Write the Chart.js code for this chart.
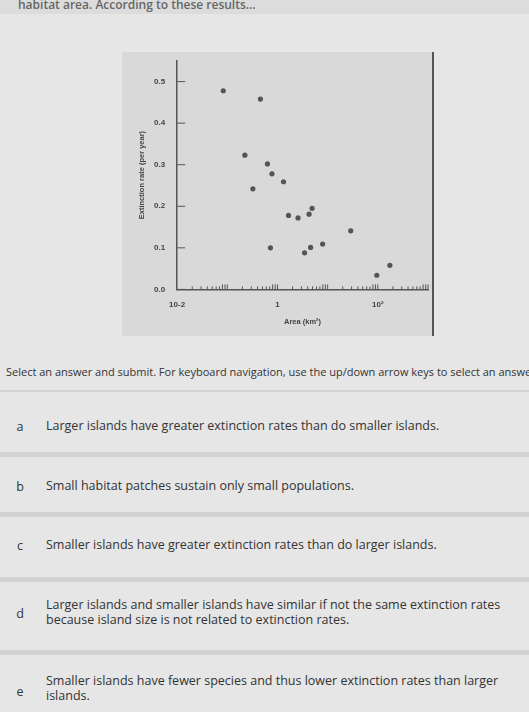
<!DOCTYPE html>
<html><head><meta charset="utf-8">
<script src="https://cdn.jsdelivr.net/npm/chart.js@4"></script>
<style>
body{margin:0;width:529px;height:712px;background:#e6e6e6;font-family:"Open Sans",Arial,sans-serif;color:#333;position:relative;overflow:hidden}
#top{position:absolute;left:0;top:0;width:529px;height:14px;background:#dcdcdc;font-size:12px;color:#666;padding-left:18px;line-height:10px;font-weight:600}
#panel{position:absolute;left:122px;top:52px;width:310px;height:284px;background:#d9d9d9;border-right:2px solid #555}
#wrap{position:absolute;left:133px;top:52px;width:299px;height:284px}
.sel{position:absolute;left:6px;top:364px;font-size:11px;white-space:nowrap}
.row{position:absolute;left:0;width:529px;font-size:12.5px}
.let{position:absolute;left:14px;width:12px;text-align:center}
.txt{position:absolute;left:46px;width:470px;line-height:15px}
.sep{position:absolute;left:0;width:529px;height:5px;background:#d2d2d2}
</style></head><body>
<div id="top">habitat area. According to these results...</div>
<div id="panel"></div>
<div id="wrap"><canvas id="c"></canvas></div>
<div class="sel">Select an answer and submit. For keyboard navigation, use the up/down arrow keys to select an answer.</div>
<div class="sep" style="top:390px;height:2px"></div>
<div class="row" style="top:418px"><span class="let">a</span><span class="txt">Larger islands have greater extinction rates than do smaller islands.</span></div>
<div class="sep" style="top:452px"></div>
<div class="row" style="top:478px"><span class="let">b</span><span class="txt">Small habitat patches sustain only small populations.</span></div>
<div class="sep" style="top:512px"></div>
<div class="row" style="top:537px"><span class="let">c</span><span class="txt">Smaller islands have greater extinction rates than do larger islands.</span></div>
<div class="sep" style="top:577px"></div>
<div class="row" style="top:597px"><span class="let" style="top:8px">d</span><span class="txt">Larger islands and smaller islands have similar if not the same extinction rates because island size is not related to extinction rates.</span></div>
<div class="sep" style="top:650px"></div>
<div class="row" style="top:673px"><span class="let" style="top:10px">e</span><span class="txt">Smaller islands have fewer species and thus lower extinction rates than larger islands.</span></div>
<script>
const logArea=[-1.08,-0.34,-0.65,-0.49,-0.20,-0.11,0.12,0.22,0.41,0.63,0.69,-0.14,0.54,0.66,0.90,1.46,1.98,2.24];
const extinction=[0.478,0.458,0.323,0.242,0.302,0.278,0.259,0.178,0.172,0.181,0.195,0.100,0.088,0.101,0.109,0.141,0.034,0.058];
const yTicks=[0,0.1,0.2,0.3,0.4,0.5];
const xTickLabels={'0.01':'10-2','1':'1','100':'10²'};
const pts=logArea.map((l,i)=>({x:Math.pow(10,l),y:extinction[i]}));
const tickMarks={id:'tm',afterDraw(ch){const c=ch.ctx,x=ch.scales.x,y=ch.scales.y;c.save();c.strokeStyle='#555';c.lineWidth=1;c.beginPath();
 for(let e=-2;e<3;e++)for(let m=2;m<10;m++){const px=x.getPixelForValue(m*Math.pow(10,e));const len=m>=8?5:3;c.moveTo(px,y.bottom);c.lineTo(px,y.bottom-len);}
 for(let e=-1;e<=3;e++){const px=x.getPixelForValue(Math.pow(10,e));c.moveTo(px,y.bottom);c.lineTo(px,y.bottom-5);}
 yTicks.forEach(v=>{const py=y.getPixelForValue(v);c.moveTo(x.left,py);c.lineTo(x.left+8,py);});
 c.stroke();c.restore();}};
new Chart(document.getElementById('c'),{type:'scatter',
data:{datasets:[{data:pts,backgroundColor:'#555',borderWidth:0,pointRadius:2.6}]},
options:{responsive:true,maintainAspectRatio:false,animation:false,
plugins:{legend:{display:false},tooltip:{enabled:false}},
layout:{padding:{top:8,right:0,bottom:6}},
scales:{
x:{type:'logarithmic',min:0.01,max:1000,
 grid:{display:false},border:{color:'#555',width:1.5},
 ticks:{autoSkip:false,color:'#444',font:{size:8,weight:'bold'},maxRotation:0,
  callback:(v)=>{const k=String(+v.toPrecision(3));return xTickLabels[k]||'';}},
 afterBuildTicks:(ax)=>{ax.ticks=[0.01,1,100].map(v=>({value:v}));},
 title:{display:true,text:'Area (km²)',color:'#444',font:{size:7.5,weight:'bold'}}},
y:{min:0,max:0.55,
 grid:{display:false},border:{color:'#555',width:1.5},
 afterBuildTicks:(ax)=>{ax.ticks=yTicks.map(v=>({value:v}));},
 ticks:{color:'#444',font:{size:8,weight:'bold'},padding:4,callback:v=>v.toFixed(1)},
 title:{display:true,text:'Extinction rate (per year)',color:'#444',font:{size:7.5,weight:'bold'}}}}},
plugins:[tickMarks]});
</script></body></html>
